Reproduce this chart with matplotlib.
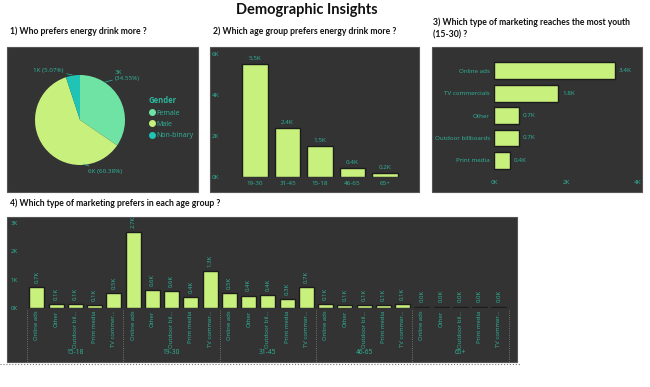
import matplotlib
matplotlib.use('Agg')
import matplotlib.pyplot as plt
from matplotlib.patches import Rectangle
from matplotlib.lines import Line2D

plt.rcParams['font.family'] = ['Open Sans', 'DejaVu Sans']

W, H = 650, 387
BG = '#333333'
GREEN = '#c8f07c'
TEAL = '#2fb59b'
EDGE = '#1c1c1c'

# --- data ---
genders = ['Female', 'Male', 'Non-binary']
gender_share = [34.55, 60.38, 5.07]
gender_count = ['3K', '6K', '1K']
gender_colors = ['#6ee3a4', '#c8f07c', '#1fc4b6']

ages = ['19-30', '31-45', '15-18', '46-65', '65+']
age_counts = [5.53, 2.39, 1.51, 0.44, 0.21]

channels = ['Online ads', 'TV commercials', 'Other', 'Outdoor billboards', 'Print media']
youth_reach = [3.36, 1.78, 0.69, 0.69, 0.44]

groups = ['15-18', '19-30', '31-45', '46-65', '65+']
group_channels = ['Online ads', 'Other', 'Outdoor bil…', 'Print media', 'TV commer…']
group_values = [
    [0.73, 0.12, 0.13, 0.09, 0.51],
    [2.68, 0.62, 0.60, 0.38, 1.29],
    [0.51, 0.43, 0.44, 0.32, 0.73],
    [0.14, 0.10, 0.10, 0.10, 0.13],
    [0.04, 0.04, 0.04, 0.04, 0.04],
]

fig = plt.figure(figsize=(W / 100, H / 100), dpi=100)
fig.patch.set_facecolor('white')


def ax_px(x0, y0, x1, y1):
    return fig.add_axes([x0 / W, 1 - y1 / H, (x1 - x0) / W, (y1 - y0) / H])


def panel(x0, y0, x1, y1):
    fig.add_artist(Rectangle((x0 / W, 1 - y1 / H), (x1 - x0) / W, (y1 - y0) / H,
                             transform=fig.transFigure, facecolor=BG,
                             edgecolor='#555555', lw=0.8, zorder=0))


def style(ax, size=4.5):
    ax.set_facecolor('none')
    for s in ax.spines.values():
        s.set_visible(False)
    ax.tick_params(colors=TEAL, labelcolor=TEAL, length=0, labelsize=size)


fig.text(307 / W, 1 - 10 / H, 'Demographic Insights', ha='center', va='center',
         fontsize=10.5, fontweight='bold', color='#111111', family=['Lato', 'DejaVu Sans'])

tkw = dict(fontsize=6.2, fontweight='bold', color='#111111', va='center', ha='left',
           family=['Lato', 'DejaVu Sans'])
fig.text(10 / W, 1 - 31 / H, '1) Who prefers energy drink more ?', **tkw)
fig.text(213 / W, 1 - 31 / H, '2) Which age group prefers energy drink more ?', **tkw)
fig.text(433 / W, 1 - 22 / H, '3) Which type of marketing reaches the most youth', **tkw)
fig.text(433 / W, 1 - 35 / H, '(15-30) ?', **tkw)
fig.text(10 / W, 1 - 203 / H, '4) Which type of marketing prefers in each age group ?', **tkw)

# --- 1) pie ---
panel(7, 47, 198, 192)
ax1 = ax_px(35, 75, 125, 165)
ax1.pie(gender_share, colors=gender_colors, startangle=90, counterclock=False,
        wedgeprops=dict(linewidth=0))
ax1.set_xlim(-1, 1)
ax1.set_ylim(-1, 1)
lbl = [f'{c} ({p:.2f}%)' for c, p in zip(gender_count, gender_share)]
akw = dict(color=TEAL, fontsize=4.5, annotation_clip=False,
           arrowprops=dict(arrowstyle='-', color=TEAL, lw=0.5, shrinkA=0, shrinkB=0))
ax1.annotate(lbl[0].replace(' ', '\n'), xy=(0.55, 0.84), xytext=(0.78, 0.98),
             ha='left', va='center', **akw)
ax1.annotate(lbl[1], xy=(0.07, -0.98), xytext=(0.18, -1.14), ha='left', va='center', **akw)
ax1.annotate(lbl[2], xy=(-0.17, 1.0), xytext=(-0.36, 1.11), ha='right', va='center', **akw)
handles = [Line2D([], [], marker='o', ls='', color=c, markersize=4) for c in gender_colors]
leg = fig.legend(handles, genders, title='Gender', loc='upper left',
                 bbox_to_anchor=(145 / W, 1 - 93 / H), frameon=False, fontsize=5,
                 title_fontsize=5.5, labelcolor=TEAL, handletextpad=0.1,
                 handlelength=1, labelspacing=0.6, borderpad=0)
leg.get_title().set_color(TEAL)
leg.get_title().set_fontweight('bold')
leg._legend_box.align = 'left'

# --- 2) age bars ---
panel(210, 47, 419, 192)
ax2 = ax_px(234.4, 54, 405.6, 177)
b2 = ax2.bar(ages, age_counts, width=0.79, color=GREEN, edgecolor=EDGE, lw=1)
ax2.set_ylim(0, 6)
ax2.set_yticks([0, 2, 4, 6], ['0K', '2K', '4K', '6K'])
style(ax2)
ax2.tick_params(axis='y', pad=11)
ax2.tick_params(axis='x', pad=3)
ax2.bar_label(b2, labels=[f'{v:.1f}K' for v in age_counts], padding=2,
              color=TEAL, fontsize=4.5)

# --- 3) youth marketing ---
panel(432, 47, 642, 192)
ax3 = ax_px(494, 59.8, 638, 171.5)
b3 = ax3.barh(channels, youth_reach, height=0.76, color=GREEN, edgecolor=EDGE, lw=1)
ax3.set_xlim(0, 4)
ax3.set_ylim(4.5, -0.5)
ax3.set_xticks([0, 2, 4], ['0K', '2K', '4K'])
style(ax3)
ax3.tick_params(axis='y', pad=3)
ax3.tick_params(axis='x', pad=6)
ax3.bar_label(b3, labels=[f'{v:.1f}K' for v in youth_reach], padding=3,
              color=TEAL, fontsize=4.5)

# --- 4) marketing by age group ---
panel(7, 217, 517, 362)
ax4 = ax_px(27.2, 223.3, 508.6, 307.7)
vals = [v for row in group_values for v in row]
names = [c for _ in groups for c in group_channels]
xs = list(range(len(vals)))
b4 = ax4.bar(xs, vals, width=0.78, color=GREEN, edgecolor=EDGE, lw=1)
ax4.set_xlim(-0.5, len(vals) - 0.5)
ax4.set_ylim(0, 3)
ax4.set_yticks([0, 1, 2, 3], ['0K', '1K', '2K', '3K'])
ax4.set_xticks(xs, names, rotation=90, va='top')
style(ax4, 4.3)
ax4.tick_params(axis='y', pad=7)
ax4.tick_params(axis='x', pad=2)
ax4.bar_label(b4, labels=[f'{v:.1f}K' for v in vals], padding=3, rotation=90,
              color=TEAL, fontsize=4.3)
tr = ax4.get_xaxis_transform()
n = len(group_channels)
for i, g in enumerate(groups):
    ax4.text(i * n + (n - 1) / 2, -0.525, g, transform=tr, ha='center', va='center',
             color=TEAL, fontsize=4.8, clip_on=False)
for i in range(len(groups) + 1):
    ax4.plot([i * n - 0.5] * 2, [-0.03, -0.64], transform=tr, ls=':', lw=0.6,
             color='#888888', clip_on=False)

fig.add_artist(Line2D([0, 520 / W], [1 - 364 / H] * 2, transform=fig.transFigure,
                      ls=':', lw=0.8, color='#777777'))

fig.savefig('out.png', dpi=100, facecolor='white')
